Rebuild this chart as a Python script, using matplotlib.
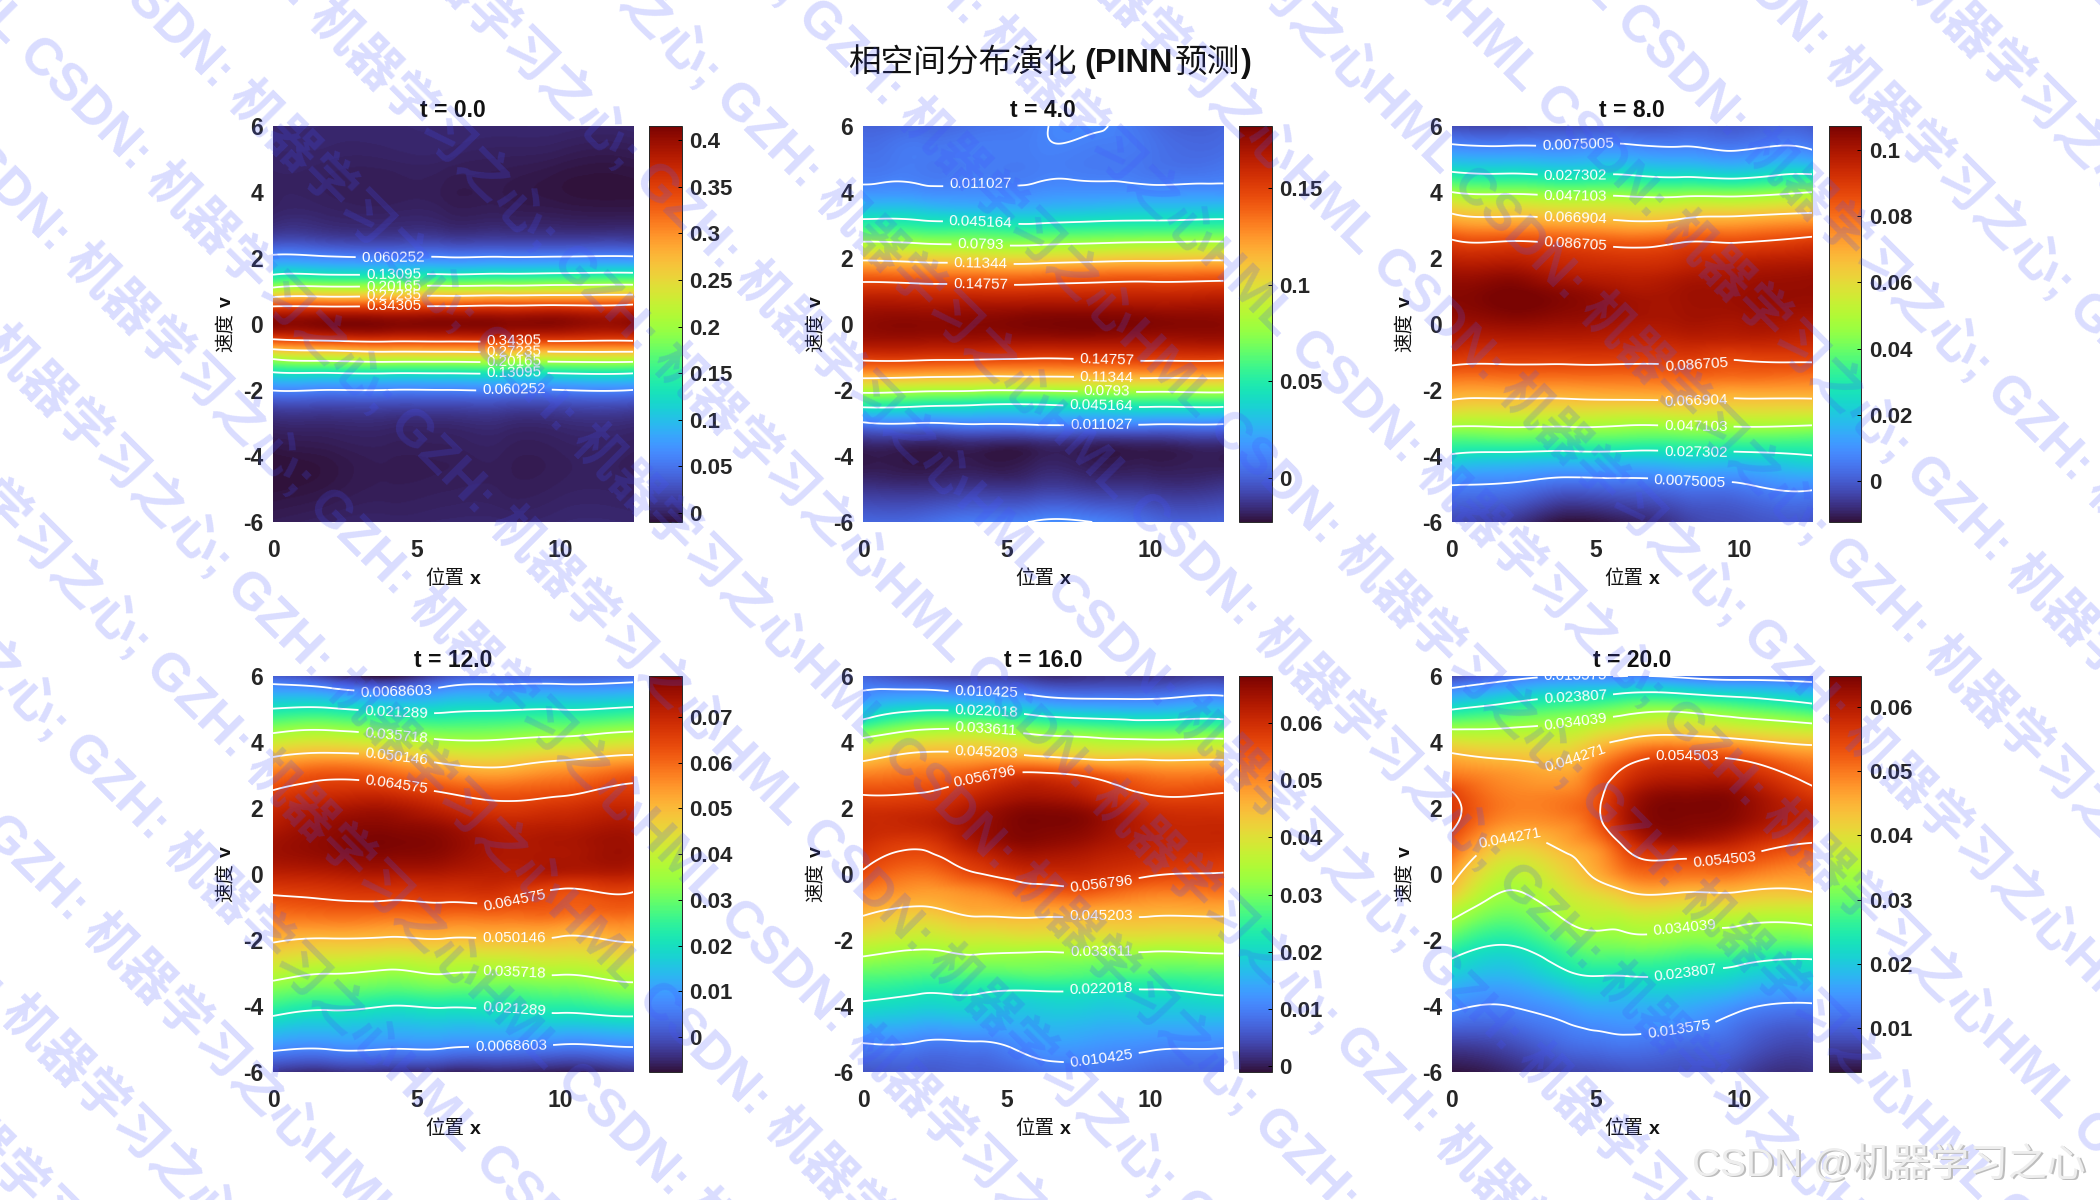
import numpy as np
import matplotlib as mpl
mpl.use("Agg")
import matplotlib.pyplot as plt
import matplotlib.tri as mtri
from matplotlib.cm import ScalarMappable
from matplotlib.colors import Normalize

W,H=2100,1200
CJK='Noto Sans CJK SC'
LATIN='Liberation Sans'
plt.rcParams['font.family']=[LATIN,CJK]
plt.rcParams['axes.unicode_minus']=False

# sample grid of the phase-space density f(x,v); rows run from v=6 down to v=-6
xGrid=[0,2,4,6,8,10,12.566]
xGridLast=[0,2,4,5,6,8,10,12.566]
vGrid=[6,5,4,3.5,3,2.5,2,1.5,1,.5,0,-.5,-1,-1.5,-2,-2.5,-3,-3.5,-4,-5,-6]

# one list per x column, top to bottom in v
f_t0=[[.003,.001,-.001,0,.006,.026,.07,.13,.225,.35,.41,.335,.215,.125,.062,.021,.003,-.004,-.009,-.009,-.003],
      [.003,0,-.002,0,.005,.023,.065,.13,.232,.35,.412,.345,.228,.128,.06,.021,.004,-.002,-.006,-.006,0],
      [.003,0,-.003,-.001,.004,.021,.062,.13,.235,.35,.41,.35,.235,.13,.06,.021,.004,-.001,-.003,-.003,.001],
      [.003,0,-.004,-.002,.003,.021,.063,.132,.238,.352,.41,.35,.235,.13,.06,.021,.004,-.001,-.003,-.002,.002],
      [.003,-.002,-.005,-.003,.003,.021,.064,.135,.24,.355,.408,.348,.235,.13,.06,.021,.005,0,-.002,-.002,.002],
      [.003,-.004,-.008,-.005,.002,.021,.065,.138,.243,.358,.406,.347,.235,.13,.06,.021,.005,0,-.002,-.001,.003],
      [.003,-.005,-.009,-.006,.002,.021,.066,.14,.245,.36,.405,.345,.235,.13,.06,.021,.005,0,-.002,-.001,.003]]
f_t4=[[.001,.006,.0155,.032,.053,.079,.109,.137,.158,.171,.176,.172,.153,.124,.086,.047,.0095,-.013,-.021,-.013,.002],
      [.002,.008,.015,.031,.051,.076,.106,.134,.157,.171,.178,.172,.153,.122,.083,.045,.011,-.014,-.022,-.014,.003],
      [.005,.009,.014,.027,.05,.074,.104,.133,.156,.172,.179,.172,.152,.12,.081,.042,.013,-.012,-.021,-.012,.009],
      [.009,.009,.0145,.027,.047,.073,.103,.133,.156,.173,.181,.172,.15,.12,.081,.041,.014,-.012,-.02,-.011,.012],
      [.0125,.008,.016,.03,.05,.076,.106,.136,.157,.173,.182,.172,.151,.121,.083,.044,.014,-.013,-.021,-.012,.011],
      [.004,.006,.016,.032,.051,.078,.108,.137,.158,.172,.18,.171,.153,.124,.084,.046,.014,-.013,-.021,-.013,.003],
      [.001,.005,.016,.033,.053,.079,.109,.138,.16,.172,.178,.172,.153,.124,.085,.046,.013,-.012,-.02,-.012,.001]]
f_t8=[[-.002,.017,.047,.063,.075,.088,.096,.102,.105,.105,.102,.098,.091,.082,.072,.063,.05,.037,.026,.006,-.003],
      [-.003,.016,.045,.061,.073,.087,.096,.103,.107,.107,.103,.097,.09,.082,.072,.062,.05,.038,.024,.005,-.006],
      [-.002,.015,.043,.059,.072,.085,.093,.098,.104,.105,.102,.097,.09,.082,.072,.062,.05,.037,.023,.001,-.012],
      [-.001,.016,.043,.058,.07,.083,.091,.096,.1,.102,.1,.096,.09,.082,.073,.062,.049,.037,.023,.002,-.01],
      [0,.014,.042,.059,.072,.086,.093,.098,.101,.101,.1,.096,.09,.083,.074,.063,.05,.037,.024,.004,-.005],
      [0,.012,.042,.06,.074,.086,.095,.1,.102,.102,.1,.096,.088,.082,.072,.062,.05,.037,.024,.005,-.002],
      [0,.013,.047,.063,.077,.09,.097,.102,.103,.102,.099,.095,.089,.081,.072,.062,.049,.036,.027,.008,-.001]]
f_t12=[[.002,.0215,.041,.051,.059,.065,.0695,.072,.0745,.0745,.071,.066,.061,.056,.051,.045,.039,.032,.0255,.012,-.003],
       [-.003,.022,.043,.054,.063,.068,.073,.076,.077,.076,.072,.067,.0625,.0565,.0495,.043,.036,.03,.023,.011,-.004],
       [-.007,.0195,.0405,.052,.061,.068,.074,.077,.0785,.077,.073,.0675,.0625,.0555,.049,.0415,.0345,.0285,.0213,.0105,-.004],
       [0,.0195,.037,.047,.056,.064,.07,.075,.077,.076,.0725,.068,.063,.056,.0495,.042,.036,.0295,.022,.0105,-.005],
       [.002,.0205,.037,.046,.054,.0615,.0665,.071,.073,.073,.0715,.068,.063,.056,.0495,.042,.0355,.029,.0225,.01,-.005],
       [.002,.021,.039,.049,.057,.063,.068,.0715,.0735,.0735,.072,.064,.0615,.0555,.049,.043,.0365,.03,.024,.0095,-.006],
       [.003,.0225,.042,.0525,.062,.0665,.07,.073,.0745,.0745,.0715,.065,.0615,.056,.051,.0445,.039,.033,.026,.0105,-.004]]
f_t16=[[.007,.0165,.036,.044,.051,.056,.0595,.061,.0605,.0585,.056,.0515,.0473,.0435,.0385,.0336,.0285,.0245,.021,.0115,.0055],
       [.004,.021,.0405,.0475,.0525,.0565,.06,.0615,.0585,.0555,.052,.0485,.045,.0405,.0365,.0315,.0275,.023,.0195,.011,.006],
       [.003,.0205,.041,.048,.0555,.0605,.064,.0655,.0645,.0605,.0565,.0505,.0475,.043,.038,.033,.028,.023,.0195,.011,.0065],
       [.002,.018,.0375,.047,.0585,.0635,.067,.068,.067,.064,.06,.0545,.0487,.0435,.0385,.0322,.0285,.0225,.0185,.0135,.008],
       [.002,.016,.036,.0445,.0555,.0605,.065,.0665,.065,.0625,.06,.055,.0485,.0435,.0385,.032,.0275,.022,.0185,.0135,.009],
       [.002,.0155,.035,.0445,.052,.056,.06,.062,.062,.0605,.0575,.052,.0475,.0435,.0385,.032,.0275,.022,.0185,.0125,.0075],
       [.003,.0165,.0355,.0445,.052,.0565,.059,.061,.061,.059,.0565,.0525,.0475,.0435,.0385,.0325,.0275,.0235,.0195,.012,.007]]
f_t20=[[.008,.0235,.04,.046,.05,.0545,.056,.0555,.0528,.0497,.0462,.043,.0375,.033,.0285,.0242,.021,.0175,.0145,.008,.0035],
       [.0115,.0265,.039,.044,.0475,.049,.0495,.0475,.0435,.0395,.0365,.034,.0315,.0285,.025,.0215,.019,.016,.0136,.009,.005],
       [.0135,.029,.0395,.0435,.0465,.049,.0505,.0485,.0465,.0435,.0413,.0388,.0363,.0337,.0303,.0265,.0233,.0195,.016,.0118,.0075],
       [.0135,.03,.0425,.0475,.051,.0525,.0535,.0525,.0495,.0468,.0452,.0415,.038,.0355,.032,.0285,.0245,.021,.0175,.0125,.008],
       [.0135,.0315,.0455,.052,.056,.059,.0605,.06,.0562,.0525,.0495,.0443,.0395,.0355,.0325,.0285,.0245,.0205,.0175,.013,.0085],
       [.0125,.0325,.0475,.0555,.0595,.063,.0645,.064,.0615,.055,.0505,.045,.0395,.035,.032,.0275,.024,.0205,.0175,.012,.0085],
       [.011,.03,.046,.054,.059,.0625,.0635,.0625,.059,.0545,.05,.0447,.0395,.0345,.0315,.0265,.022,.0185,.0147,.0105,.0075],
       [.0105,.0265,.043,.049,.0525,.0555,.0585,.0585,.055,.0505,.0475,.0447,.0385,.0345,.0305,.0245,.0215,.017,.013,.0085,.006]]
fields=[f_t0,f_t4,f_t8,f_t12,f_t16,f_t20]
columns=[xGrid,xGrid,xGrid,xGrid,xGrid,xGridLast]

times=[0.0,4.0,8.0,12.0,16.0,20.0]
contourLevels=[[.060252,.13095,.20165,.27235,.34305],
               [.011027,.045164,.0793,.11344,.14757],
               [.0075005,.027302,.047103,.066904,.086705],
               [.0068603,.021289,.035718,.050146,.064575],
               [.010425,.022018,.033611,.045203,.056796],
               [.013575,.023807,.034039,.044271,.054503]]
colorLimits=[(-.01,.4155),(-.023,.1822),(-.0123,.1071),(-.0076,.0789),(-.0011,.0683),(.0032,.0648)]
cbarTicks=[[0,.05,.1,.15,.2,.25,.3,.35,.4],
           [0,.05,.1,.15],
           [0,.02,.04,.06,.08,.1],
           [0,.01,.02,.03,.04,.05,.06,.07],
           [0,.01,.02,.03,.04,.05,.06],
           [.01,.02,.03,.04,.05,.06]]
labelSpots=[[(4.2,2.03),(4.2,1.49),(4.2,1.15),(4.2,.84),(4.2,.54),(8.4,-.54),(8.4,-.86),(8.4,-1.18),(8.4,-1.5),(8.4,-1.98)],
            [(4.1,4.5),(4.1,3.02),(4.1,2.36),(4.1,1.8),(4.1,1.2),(8.5,-1.2),(8.5,-1.72),(8.5,-2.14),(8.3,-2.57),(8.3,-3.05)],
            [(4.4,5.33),(4.3,4.53),(4.3,3.88),(4.3,3.17),(4.3,2.37),(8.5,-1.1),(8.5,-2.22),(8.5,-3.06),(8.5,-3.8),(8.3,-4.6)],
            [(4.3,5.5),(4.3,4.93),(4.3,4.2),(4.3,3.5),(4.3,2.65),(8.4,-.65),(8.4,-1.93),(8.4,-3.05),(8.4,-4.15),(8.3,-5.28)],
            [(4.3,5.55),(4.3,5.0),(4.3,4.42),(4.3,3.75),(4.3,2.8),(8.3,-.25),(8.3,-1.32),(8.3,-2.32),(8.3,-3.5),(8.3,-5.55)],
            [(4.3,5.95),(4.3,5.35),(4.3,4.65),(4.3,3.5),(8.2,3.62),(2.0,1.1),(9.5,.5),(8.1,-1.65),(8.1,-2.8),(7.9,-4.7)]]
xTickVals=[0,5,10]
vTickVals=[-6,-4,-2,0,2,4,6]

# left edges of the panels and their colorbars in pixels
axLeft=[273,863,1452]
axWidth=360.5
cbLeft=[649,1239,1829]
cbWidth=32.5
rowTop=[126,676]
rowHeight=396

def makeAxes(x,y,w,h):
  return plt.gcf().add_axes([x/W,1-(y+h)/H,w/W,h/H])

def mixedText(fig,x,y,parts,rotation=0,zorder=4):
  # pieces with different fonts along one baseline, centred on x (or y when rotated)
  r=fig.canvas.get_renderer()
  made=[]
  total=0
  for s,family,weight,size,gap in parts:
    t=fig.text(0,0,s,family=family,weight=weight,fontsize=size,color='#111111',rotation=rotation,
               rotation_mode='anchor',ha='left',va='baseline',zorder=zorder)
    ext=t.get_window_extent(r)
    adv=ext.height if rotation else ext.width
    made.append((t,total))
    total+=adv+gap
  for t,off in made:
    if rotation:
      t.set_position((x/W,1-(y+total/2-off)/H))
    else:
      t.set_position(((x-total/2+off)/W,1-y/H))

fig=plt.figure(figsize=(W/100,H/100),dpi=100)
fig.patch.set_facecolor('white')

for i in range(6):
  col=i%3
  row=i//3
  xs=columns[i]
  xFine=np.linspace(0,xs[-1]-1e-6,420)
  vFine=np.linspace(-6+1e-6,6-1e-6,420)
  XF,VF=np.meshgrid(xFine,vFine)
  XG,VG=np.meshgrid(xs,vGrid,indexing='ij')
  ax=makeAxes(axLeft[col],rowTop[row],axWidth,rowHeight)
  tri=mtri.Triangulation(XG.ravel(),VG.ravel())
  smooth=mtri.CubicTriInterpolator(tri,np.array(fields[i]).ravel(),kind='min_E')
  Z=np.ma.filled(smooth(XF,VF),np.nan)
  vmin,vmax=colorLimits[i]
  ax.imshow(Z,origin='lower',extent=[0,xs[-1],-6,6],aspect='auto',cmap='turbo',vmin=vmin,vmax=vmax,interpolation='bilinear')
  cs=ax.contour(XF,VF,Z,levels=contourLevels[i],colors='white',linewidths=1.3)
  ax.clabel(cs,manual=labelSpots[i],fmt=lambda v:'%.5g'%v,fontsize=11,colors='white',inline=True,inline_spacing=6)
  ax.set_xlim(0,xs[-1])
  ax.set_ylim(-6,6)
  ax.set_xticks(xTickVals)
  ax.set_yticks(vTickVals)
  ax.tick_params(length=0,labelsize=16.5,labelcolor='#262626')
  ax.tick_params(axis='x',pad=12)
  ax.tick_params(axis='y',pad=7)
  plt.setp(ax.get_xticklabels()+ax.get_yticklabels(),fontweight='bold')
  for s in ax.spines.values():
    s.set_visible(False)
  ax.set_title('t = %.1f'%times[i],weight='bold',fontsize=16.5,color='#111111',pad=6.5)

  cax=makeAxes(cbLeft[col],rowTop[row],cbWidth,rowHeight)
  cb=fig.colorbar(ScalarMappable(Normalize(vmin,vmax),cmap='turbo'),cax=cax)
  cb.set_ticks(cbarTicks[i])
  cb.set_ticklabels(['%g'%t for t in cbarTicks[i]])
  cb.outline.set_linewidth(.7)
  cb.outline.set_edgecolor('#262626')
  cax.tick_params(direction='in',length=3,width=.7,labelsize=16,labelcolor='#262626',pad=5.5)
  plt.setp(cax.get_yticklabels(),fontweight='bold')

  cx=axLeft[col]+axWidth/2
  mixedText(fig,cx,rowTop[row]+rowHeight+62,[('位置',CJK,'normal',14,6),('x',LATIN,'bold',14,0)])
  mixedText(fig,axLeft[col]-42,rowTop[row]+rowHeight/2,[('速度',CJK,'normal',14,6),('v',LATIN,'bold',14,0)],rotation=90)

mixedText(fig,1050,72,[('相空间分布演化',CJK,'normal',23.5,8),('(PINN',LATIN,'bold',23.5,1),('预测',CJK,'normal',23.5,1),(')',LATIN,'bold',23.5,0)])

# repeating diagonal site mark across the whole figure
markText='CSDN: 机器学习之心; GZH: 机器学习之心HML'
markRepeat=782.0
markStep=81.5
startX,startY=28.0,44.0
for k in range(-18,20):
  for m in range(-3,5):
    px=startX-k*markStep+m*markRepeat
    py=startY+k*markStep+m*markRepeat
    if px>W+50 or py>H+50 or px+markRepeat<-50 or py+markRepeat<-50:
      continue
    fig.text(px/W,1-py/H,markText,family=[LATIN,CJK],weight='bold',fontsize=37.5,color=(.27,.32,1.0),alpha=.2,
             rotation=-45,rotation_mode='anchor',ha='left',va='center',zorder=10)

for dx,c in ((1.5,'#bdbdbd'),(0,'#eeeeee')):
  fig.text((1692+dx)/W,1-(1176+dx)/H,'CSDN @机器学习之心',family=[LATIN,CJK],fontsize=28,color=c,zorder=11)

plt.savefig('out.png',dpi=100)
